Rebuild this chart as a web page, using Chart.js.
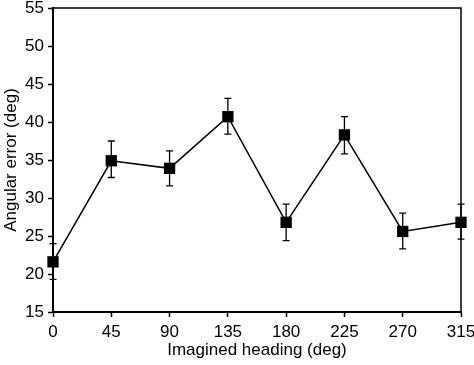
<!DOCTYPE html>
<html>
<head>
<meta charset="utf-8">
<script src="https://cdn.jsdelivr.net/npm/chart.js@4.4.1/dist/chart.umd.min.js"></script>
<style>
  html, body { margin: 0; padding: 0; background: #fff; }
  #wrap { width: 474px; height: 365px; }
</style>
</head>
<body>
<div id="wrap"><canvas id="errChart" width="474" height="365"></canvas></div>
<script>
// imagined heading (deg) and mean angular error (deg)
var headings = [0, 45, 90, 135, 180, 225, 270, 315];
var meanError = [21.6, 34.9, 33.9, 40.7, 26.8, 38.3, 25.6, 26.8];
var errUpper = [24.0, 37.5, 36.2, 43.1, 29.2, 40.7, 28.0, 29.2];
var errLower = [19.3, 32.7, 31.6, 38.4, 24.4, 35.8, 23.3, 24.6];
var xTicks = [0, 45, 90, 135, 180, 225, 270, 315];
var yTicks = [15, 20, 25, 30, 35, 40, 45, 50, 55];

var points = headings.map(function (h, i) { return { x: h, y: meanError[i] }; });

var frameAndBars = {
    id: 'frameAndBars',
    beforeDatasetsDraw: function (chart) {
        var ctx = chart.ctx, a = chart.chartArea;
        var xs = chart.scales.x, ys = chart.scales.y;
        ctx.save();
        ctx.strokeStyle = '#000';
        // top and right frame
        ctx.lineWidth = 1.5;
        ctx.beginPath();
        ctx.moveTo(a.left, a.top);
        ctx.lineTo(a.right, a.top);
        ctx.lineTo(a.right, a.bottom);
        ctx.stroke();
        // error bars
        ctx.lineWidth = 1.3;
        for (var i = 0; i < headings.length; i++) {
            var px = xs.getPixelForValue(headings[i]);
            var hi = ys.getPixelForValue(errUpper[i]);
            var lo = ys.getPixelForValue(errLower[i]);
            ctx.beginPath();
            ctx.moveTo(px, hi); ctx.lineTo(px, lo);
            ctx.moveTo(px - 3.5, hi); ctx.lineTo(px + 3.5, hi);
            ctx.moveTo(px - 3.5, lo); ctx.lineTo(px + 3.5, lo);
            ctx.stroke();
        }
        ctx.restore();
    }
};

var font = { family: '"Liberation Sans", Arial, sans-serif', size: 17 };

var errChart = new Chart(document.getElementById('errChart'), {
    type: 'line',
    data: {
        datasets: [{
            data: points,
            borderColor: '#000',
            borderWidth: 1.5,
            backgroundColor: '#000',
            pointStyle: 'rect',
            pointRadius: 8,
            pointBorderWidth: 0,
            tension: 0,
            clip: false
        }]
    },
    options: {
        responsive: false,
        animation: false,
        devicePixelRatio: 1,
        layout: { padding: { top: 7, right: 13, left: 0, bottom: 0 } },
        plugins: { legend: { display: false }, tooltip: { enabled: false } },
        scales: {
            x: {
                type: 'linear',
                min: 0, max: 315,
                afterBuildTicks: function (s) { s.ticks = xTicks.map(function (v) { return { value: v }; }); },
                afterFit: function (s) { s.height = 53; s.paddingLeft = 0; s.paddingRight = 0; },
                grid: { drawOnChartArea: false, tickLength: 5, tickColor: '#000', tickWidth: 1.5 },
                border: { color: '#000', width: 2 },
                ticks: { color: '#000', font: font, padding: 5, maxRotation: 0 },
                title: { display: true, text: 'Imagined heading (deg)', color: '#000', font: font, padding: { top: 0 } }
            },
            y: {
                min: 15, max: 55,
                afterBuildTicks: function (s) { s.ticks = yTicks.map(function (v) { return { value: v }; }); },
                afterFit: function (s) { s.width = 53; s.paddingTop = 0; s.paddingBottom = 0; },
                grid: { drawOnChartArea: false, tickLength: 5, tickColor: '#000', tickWidth: 1.5 },
                border: { color: '#000', width: 2 },
                ticks: { color: '#000', font: font, padding: 4 },
                title: { display: true, text: 'Angular error (deg)', color: '#000', font: font, padding: { top: 1, bottom: 0 } }
            }
        }
    },
    plugins: [frameAndBars]
});
</script>
</body>
</html>
